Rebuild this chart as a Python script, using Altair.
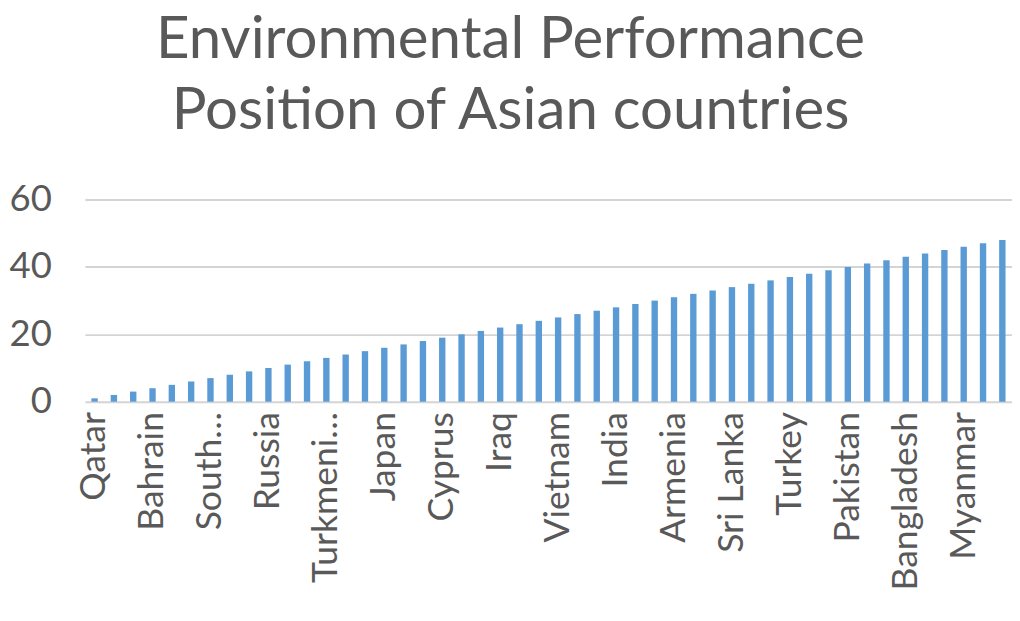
import altair as alt
import pandas as pd

# Environmental performance position of Asian countries (rank order)
countries = [
    "Qatar", "United Arab Emirates", "Kuwait", "Bahrain", "Oman", "Saudi Arabia",
    "South Korea", "Israel", "Kazakhstan", "Russia", "Mongolia", "Brunei",
    "Turkmenistan", "Iran", "Singapore", "Japan", "Malaysia", "Jordan",
    "Cyprus", "Lebanon", "Uzbekistan", "Iraq", "Azerbaijan", "China",
    "Vietnam", "Georgia", "Thailand", "India", "Syria", "Indonesia",
    "Armenia", "Kyrgyzstan", "Bhutan", "Sri Lanka", "Maldives", "Yemen",
    "Turkey", "Tajikistan", "Laos", "Pakistan", "Philippines", "Afghanistan",
    "Bangladesh", "Cambodia", "Nepal", "Myanmar", "Timor-Leste", "North Korea",
]
positions = [
    1, 2, 3, 4, 5, 6, 7, 8, 9, 10, 11, 12,
    13, 14, 15, 16, 17, 18, 19, 20, 21, 22, 23, 24,
    25, 26, 27, 28, 29, 30, 31, 32, 33, 34, 35, 36,
    37, 38, 39, 40, 41, 42, 43, 44, 45, 46, 47, 48,
]
# only every third category gets a label on the axis
shown_labels = countries[::3]
y_ticks = [0, 20, 40, 60]

df = pd.DataFrame({"country": countries, "position": positions})

text_color = "#595959"
font = "Lato"

chart = alt.Chart(df).mark_bar(color="#5B9BD5").encode(
    x=alt.X(
        "country:N",
        sort=countries,
        title=None,
        scale=alt.Scale(paddingInner=0.67, paddingOuter=0.335),
        axis=alt.Axis(
            values=shown_labels,
            labelAngle=-90,
            labelAlign="right",
            labelBaseline="middle",
            labelFontSize=36,
            labelFont=font,
            labelColor=text_color,
            labelPadding=10,
            labelLimit=400,
            labelExpr="datum.value == 'South Korea' ? 'South…' : "
                      "datum.value == 'Turkmenistan' ? 'Turkmeni…' : datum.value",
            ticks=False,
            domain=False,
        ),
    ),
    y=alt.Y(
        "position:Q",
        title=None,
        scale=alt.Scale(domain=[0, 60]),
        axis=alt.Axis(
            values=y_ticks,
            labelFontSize=37,
            labelFont=font,
            labelColor=text_color,
            labelPadding=34,
            ticks=False,
            domain=False,
            gridColor="#D4D4D4",
            gridWidth=2,
        ),
    ),
).properties(
    width=940,
    height=205,
    autosize=alt.AutoSizeParams(type="none"),
    padding={"left": 78, "right": 0, "top": 190, "bottom": 205},
    title=alt.TitleParams(
        ["Environmental Performance", "Position of Asian countries"],
        font=font,
        fontSize=59,
        fontWeight="normal",
        color=text_color,
        lineHeight=72,
        anchor="middle",
        frame="bounds",
        offset=40,
    ),
).configure_view(stroke=None)

chart.save("out.html", embed_options={"renderer": "svg", "actions": False})
